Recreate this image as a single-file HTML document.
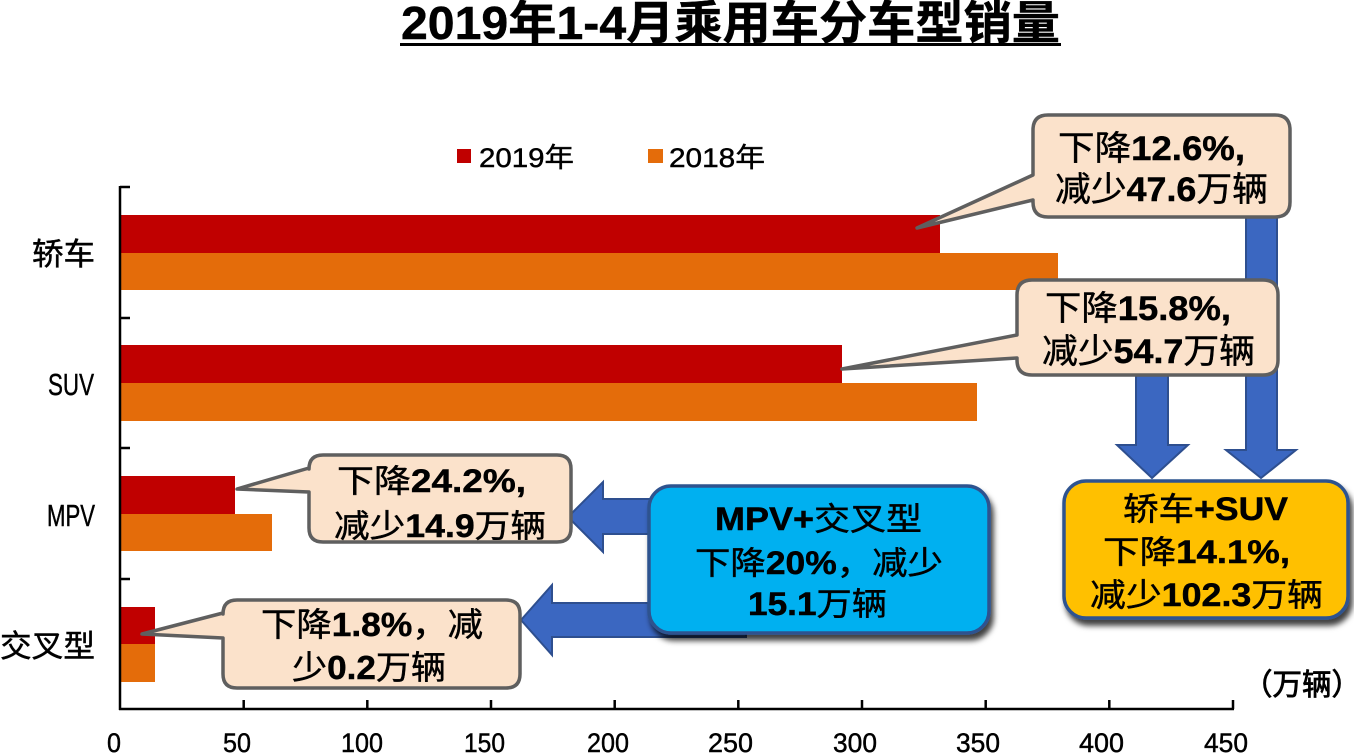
<!DOCTYPE html>
<html><head><meta charset="utf-8"><style>
html,body{margin:0;padding:0;background:#fff;}
svg{display:block;}
text{font-family:"Liberation Sans","Noto Sans CJK SC",sans-serif;fill:#000;stroke:#000;stroke-width:0.45;}
.b{font-weight:bold;}
.th{stroke-width:0.8;}
</style></head><body>
<svg width="1354" height="753" viewBox="0 0 1354 753" xmlns="http://www.w3.org/2000/svg">
<defs>
<filter id="sh" x="-10%" y="-10%" width="130%" height="140%">
<feDropShadow dx="3" dy="6" stdDeviation="3" flood-color="#000" flood-opacity="0.75"/>
</filter>
</defs>
<rect width="1354" height="753" fill="#fff"/>

<!-- Title -->
<text x="401" y="39" font-size="46" class="b" textLength="659" lengthAdjust="spacingAndGlyphs">2019年1-4月乘用车分车型销量</text>
<rect x="400" y="43" width="661" height="3" fill="#000"/>

<!-- Legend -->
<rect x="457" y="149" width="14" height="14" fill="#c00000"/>
<text x="479" y="167" font-size="27" textLength="95" lengthAdjust="spacingAndGlyphs">2019年</text>
<rect x="648" y="149" width="15" height="14" fill="#e46c0a"/>
<text x="669" y="167" font-size="27" textLength="96" lengthAdjust="spacingAndGlyphs">2018年</text>

<!-- Bars -->
<rect x="121" y="215" width="819" height="38" fill="#c00000"/>
<rect x="121" y="253" width="937" height="37" fill="#e46c0a"/>
<rect x="121" y="345" width="721" height="38" fill="#c00000"/>
<rect x="121" y="383" width="856" height="38" fill="#e46c0a"/>
<rect x="121" y="476" width="114" height="38" fill="#c00000"/>
<rect x="121" y="514" width="151" height="37" fill="#e46c0a"/>
<rect x="121" y="607" width="34" height="37" fill="#c00000"/>
<rect x="121" y="644" width="34" height="38" fill="#e46c0a"/>

<!-- Axes -->
<g stroke="#000" stroke-width="2.5" fill="none">
<line x1="120" y1="186" x2="120" y2="710"/>
<line x1="119" y1="709" x2="1234" y2="709"/>
<line x1="120" y1="187" x2="130" y2="187"/>
<line x1="120" y1="318" x2="130" y2="318"/>
<line x1="120" y1="448" x2="130" y2="448"/>
<line x1="120" y1="579" x2="130" y2="579"/>
<line x1="243.7" y1="700" x2="243.7" y2="709"/>
<line x1="367.3" y1="700" x2="367.3" y2="709"/>
<line x1="491" y1="700" x2="491" y2="709"/>
<line x1="614.7" y1="700" x2="614.7" y2="709"/>
<line x1="738.3" y1="700" x2="738.3" y2="709"/>
<line x1="862" y1="700" x2="862" y2="709"/>
<line x1="985.7" y1="700" x2="985.7" y2="709"/>
<line x1="1109.3" y1="700" x2="1109.3" y2="709"/>
<line x1="1233" y1="700" x2="1233" y2="709"/>
</g>

<!-- Tick labels -->
<g font-size="27" class="th">
<text x="107" y="752" textLength="14" lengthAdjust="spacingAndGlyphs">0</text>
<text x="223" y="752" textLength="28" lengthAdjust="spacingAndGlyphs">50</text>
<text x="341" y="752" textLength="42" lengthAdjust="spacingAndGlyphs">100</text>
<text x="464" y="752" textLength="41" lengthAdjust="spacingAndGlyphs">150</text>
<text x="587" y="752" textLength="42" lengthAdjust="spacingAndGlyphs">200</text>
<text x="708" y="752" textLength="45" lengthAdjust="spacingAndGlyphs">250</text>
<text x="833" y="752" textLength="44" lengthAdjust="spacingAndGlyphs">300</text>
<text x="956" y="752" textLength="44" lengthAdjust="spacingAndGlyphs">350</text>
<text x="1079" y="752" textLength="45" lengthAdjust="spacingAndGlyphs">400</text>
<text x="1204" y="752" textLength="44" lengthAdjust="spacingAndGlyphs">450</text>
</g>

<!-- Category labels -->
<g font-size="31" class="th">
<text x="32" y="265" textLength="63" lengthAdjust="spacingAndGlyphs">轿车</text>
<text x="48" y="395" textLength="46" lengthAdjust="spacingAndGlyphs">SUV</text>
<text x="47" y="526" textLength="48" lengthAdjust="spacingAndGlyphs">MPV</text>
<text x="0" y="657" textLength="95" lengthAdjust="spacingAndGlyphs">交叉型</text>
</g>

<!-- Unit -->
<text x="1243" y="695" font-size="30" class="th" textLength="118" lengthAdjust="spacingAndGlyphs">（万辆）</text>

<!-- Blue arrows -->
<g fill="#3b67c1" stroke="#2e4f8f" stroke-width="2">
<polygon points="1246,210 1277,210 1277,450 1296,450 1261,478 1226,450 1246,450"/>
<polygon points="1136,370 1168,370 1168,445 1188,445 1152,478 1117,445 1136,445"/>
<polygon points="568,517 603,482 603,499 700,499 700,534 603,534 603,552"/>
<polygon points="521,620 552,585 552,603 746,603 746,637 552,637 552,655"/>
</g>

<!-- Peach callouts -->
<g fill="#fbe2cb" stroke="#5f5f5f" stroke-width="3.5" stroke-linejoin="round">
<path d="M1048,115 H1275 Q1290,115 1290,130 V202 Q1290,217 1275,217 H1048 Q1033,217 1033,202 V200 L917,228 L1033,175 V130 Q1033,115 1048,115 Z"/>
<path d="M1032,280 H1263 Q1278,280 1278,295 V360 Q1278,375 1263,375 H1032 Q1017,375 1017,360 V358 L842,369 L1017,335 V295 Q1017,280 1032,280 Z"/>
<path d="M323,455 H557 Q571,455 571,469 V528 Q571,542 557,542 H323 Q309,542 309,528 V492 L237,489 L309,468 V469 Q309,455 323,455 Z"/>
<path d="M237,600 H506 Q520,600 520,614 V674 Q520,688 506,688 H237 Q223,688 223,674 V638 L142,634 L223,613 V614 Q223,600 237,600 Z"/>
</g>

<!-- Callout texts -->
<g class="th">
<text x="1058" y="160" font-size="34" textLength="187" lengthAdjust="spacingAndGlyphs">下降<tspan class="b">12.6%,</tspan></text>
<text x="1055" y="201" font-size="34" textLength="213" lengthAdjust="spacingAndGlyphs">减少<tspan class="b">47.6</tspan>万辆</text>
<text x="1045" y="320" font-size="34" textLength="186" lengthAdjust="spacingAndGlyphs">下降<tspan class="b">15.8%,</tspan></text>
<text x="1042" y="363" font-size="34" textLength="213" lengthAdjust="spacingAndGlyphs">减少<tspan class="b">54.7</tspan>万辆</text>
<text x="337" y="492" font-size="32" textLength="189" lengthAdjust="spacingAndGlyphs">下降<tspan class="b">24.2%,</tspan></text>
<text x="334" y="537" font-size="32" textLength="212" lengthAdjust="spacingAndGlyphs">减少<tspan class="b">14.9</tspan>万辆</text>
<text x="261" y="636" font-size="33" textLength="222" lengthAdjust="spacingAndGlyphs">下降<tspan class="b">1.8%</tspan>，减</text>
<text x="292" y="679" font-size="33" textLength="154" lengthAdjust="spacingAndGlyphs">少<tspan class="b">0.2</tspan>万辆</text>
</g>

<!-- Blue summary box -->
<rect x="649" y="486" width="340" height="147" rx="22" ry="22" fill="#00b0f0" stroke="#2f528f" stroke-width="3.5" filter="url(#sh)"/>
<g class="th">
<text x="715" y="530" font-size="32" textLength="207" lengthAdjust="spacingAndGlyphs"><tspan class="b">MPV+</tspan>交叉型</text>
<text x="695" y="574" font-size="32" textLength="248" lengthAdjust="spacingAndGlyphs">下降<tspan class="b">20%</tspan>，减少</text>
<text x="748" y="615" font-size="32" textLength="139" lengthAdjust="spacingAndGlyphs"><tspan class="b">15.1</tspan>万辆</text>
</g>

<!-- Orange summary box -->
<rect x="1064" y="481" width="284" height="137" rx="22" ry="22" fill="#ffc000" stroke="#2f528f" stroke-width="3.5" filter="url(#sh)"/>
<g class="th">
<text x="1123" y="520" font-size="32" textLength="165" lengthAdjust="spacingAndGlyphs">轿车<tspan class="b">+SUV</tspan></text>
<text x="1103" y="563" font-size="32" textLength="187" lengthAdjust="spacingAndGlyphs">下降<tspan class="b">14.1%,</tspan></text>
<text x="1090" y="606" font-size="32" textLength="233" lengthAdjust="spacingAndGlyphs">减少<tspan class="b">102.3</tspan>万辆</text>
</g>
</svg>
</body></html>
